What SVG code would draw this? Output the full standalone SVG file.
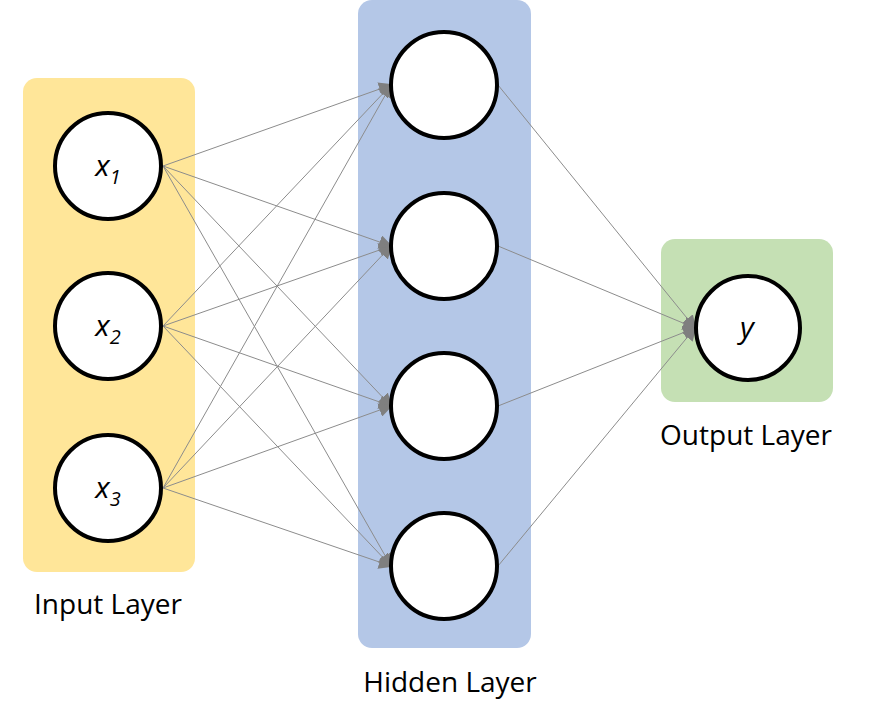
<svg xmlns="http://www.w3.org/2000/svg" width="869" height="726" viewBox="0 0 869 726">
<style>
.n{fill:#fff;stroke:#000;stroke-width:4}
.e{stroke:#8c8c8c;stroke-width:1;fill:none;marker-end:url(#a)}
.lbl{font-family:"Open Sans","Liberation Sans",sans-serif;font-size:28px;fill:#000;text-anchor:middle}
.v{font-family:"Open Sans","Liberation Sans",sans-serif;font-style:italic;font-size:30px;fill:#000;text-anchor:middle}
.s{font-size:20px}
</style>
<defs><marker id="a" markerWidth="14" markerHeight="14" refX="12" refY="7" orient="auto" markerUnits="userSpaceOnUse"><path d="M0,0 L14,7 L0,14 Z" fill="#7f7f7f"/></marker></defs>
<rect x="23" y="78" width="172" height="494" rx="14" fill="#FFE699"/>
<rect x="358" y="0" width="173" height="648" rx="14" fill="#B4C7E7"/>
<rect x="661" y="239" width="172" height="163" rx="14" fill="#C5E0B4"/>
<g id="edges">
<line class="e" x1="163" y1="166" x2="391" y2="85"/><line class="e" x1="163" y1="166" x2="391" y2="246"/><line class="e" x1="163" y1="166" x2="391" y2="406"/><line class="e" x1="163" y1="166" x2="391" y2="566"/>
<line class="e" x1="163" y1="326" x2="391" y2="85"/><line class="e" x1="163" y1="326" x2="391" y2="246"/><line class="e" x1="163" y1="326" x2="391" y2="406"/><line class="e" x1="163" y1="326" x2="391" y2="566"/>
<line class="e" x1="163" y1="488" x2="391" y2="85"/><line class="e" x1="163" y1="488" x2="391" y2="246"/><line class="e" x1="163" y1="488" x2="391" y2="406"/><line class="e" x1="163" y1="488" x2="391" y2="566"/>
<line class="e" x1="498" y1="85" x2="695" y2="328"/><line class="e" x1="498" y1="246" x2="695" y2="328"/><line class="e" x1="498" y1="406" x2="695" y2="328"/><line class="e" x1="498" y1="566" x2="695" y2="328"/>
</g>
<g id="x1"><circle class="n" cx="108" cy="166" r="53"/><text class="v" x="108" y="176">x<tspan class="s" dy="8">1</tspan></text></g>
<g id="x2"><circle class="n" cx="108" cy="326" r="53"/><text class="v" x="108" y="336">x<tspan class="s" dy="8">2</tspan></text></g>
<g id="x3"><circle class="n" cx="108" cy="488" r="53"/><text class="v" x="108" y="498">x<tspan class="s" dy="8">3</tspan></text></g>
<g id="h1"><circle class="n" cx="444" cy="85" r="53"/></g>
<g id="h2"><circle class="n" cx="444" cy="246" r="53"/></g>
<g id="h3"><circle class="n" cx="444" cy="406" r="53"/></g>
<g id="h4"><circle class="n" cx="444" cy="566" r="53"/></g>
<g id="y"><circle class="n" cx="748" cy="328" r="52"/><text class="v" x="747" y="338">y</text></g>
<text class="lbl" x="108" y="614">Input Layer</text>
<text class="lbl" x="450" y="692">Hidden Layer</text>
<text class="lbl" x="746" y="445">Output Layer</text>
</svg>
